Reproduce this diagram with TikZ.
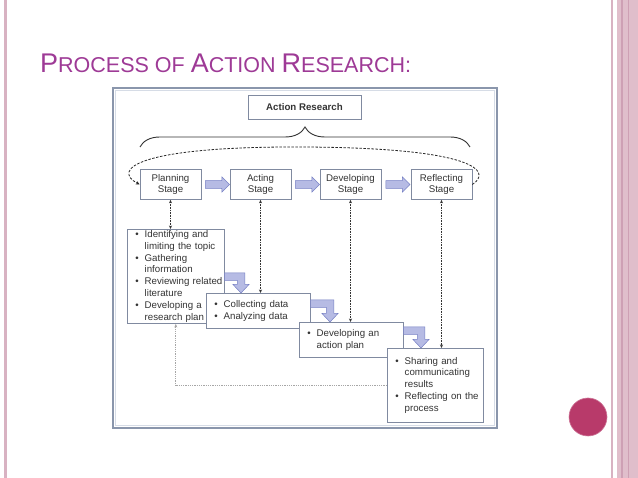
\documentclass[tikz,border=0pt]{standalone}
\usepackage{fontspec}
\setmainfont{Liberation Sans}
\usetikzlibrary{calc,shapes.arrows,decorations.pathreplacing,arrows.meta}

\definecolor{titlecol}{RGB}{158,58,150}
\definecolor{boxcol}{RGB}{128,138,160}
\definecolor{txtcol}{RGB}{52,52,52}
\definecolor{arrowfill}{RGB}{182,187,228}
\definecolor{arrowdraw}{RGB}{118,128,196}
\definecolor{framecol}{RGB}{138,150,172}
\definecolor{framelight}{RGB}{214,220,230}
\definecolor{pinkline}{RGB}{216,178,194}
\definecolor{pinkstrip}{RGB}{224,190,203}
\definecolor{pinkdark}{RGB}{206,160,180}
\definecolor{circlecol}{RGB}{184,58,106}

\newcommand\capbig[1]{{\fontsize{27}{28}\selectfont #1}}
\newcommand\capsmall[1]{{\fontsize{21.5}{22}\selectfont #1}}
\newcommand\itemlist[1]{\begin{tabular}{@{\hspace{8pt}}l@{\hspace{6pt}}l@{}}#1\end{tabular}}

% shaft leaves #1 on its right side, bends down onto the top of #2
\newcommand\bendarrow[4]{%
  \draw[bendblock] let \p1=(#1.north east), \p2=(#2.north west) in
    ({\x1},{\y1-#3}) -- ({\x2+#4+3.75pt},{\y1-#3}) -- ({\x2+#4+3.75pt},{\y2+8.5pt})
    -- ({\x2+#4+8pt},{\y2+8.5pt}) -- ({\x2+#4},{\y2}) -- ({\x2+#4-8pt},{\y2+8.5pt})
    -- ({\x2+#4-3.75pt},{\y2+8.5pt}) -- ({\x2+#4-3.75pt},{\y1-#3-7.5pt})
    -- ({\x1},{\y1-#3-7.5pt}) -- cycle;}

\tikzset{
  stagebox/.style={draw=boxcol, fill=white, line width=0.6pt, minimum width=61pt, minimum height=30pt,
    align=center, inner sep=1pt, text=txtcol, font=\fontsize{9.7}{11.8}\selectfont},
  listbox/.style={draw=boxcol, fill=white, line width=0.6pt, anchor=north west, align=left,
    inner xsep=0pt, inner ysep=0pt, text=txtcol, font=\fontsize{9.7}{11.8}\selectfont},
  hblock/.style={single arrow, draw=arrowdraw, fill=arrowfill, line width=0.5pt, minimum height=24pt,
    minimum width=15pt, single arrow head extend=3.75pt, inner sep=3.6pt},
  bendblock/.style={draw=arrowdraw, fill=arrowfill, line width=0.5pt},
  dotlink/.style={densely dotted, line width=0.6pt, draw=txtcol,
    {Stealth[length=3.5pt,width=3pt]}-{Stealth[length=3.5pt,width=3pt]}},
  returnlink/.style={densely dotted, line width=0.8pt, draw=black!35, -{Stealth[length=3.5pt,width=3pt]}},
  dashcurve/.style={dash pattern=on 2.5pt off 1.5pt, line width=0.8pt, draw=black!85,
    -{Stealth[length=4pt,width=3.5pt]}}
}

\begin{document}
\begin{tikzpicture}[x=1pt,y=-1pt]
  \useasboundingbox (0,0) rectangle (638,478);
  \fill[white] (0,0) rectangle (638,478);

  \fill[pinkline] (4,0) rectangle (7,478);
  \fill[pinkline] (610.5,0) rectangle (612.5,478);
  \fill[pinkstrip] (617,0) rectangle (638,478);
  \fill[pinkdark] (621,0) rectangle (623,478);
  \fill[pinkdark] (627.5,0) rectangle (628.5,478);
  \filldraw[fill=circlecol, draw=circlecol!70!white, line width=0.6pt] (588,417) circle (19pt);

  \node[anchor=base west, text=titlecol, inner sep=0pt] (title) at (40,73)
    {\capbig{P}\capsmall{ROCESS OF }\capbig{A}\capsmall{CTION }\capbig{R}\capsmall{ESEARCH:}};

  \draw[framelight, line width=1pt] (115.5,90.5) rectangle (494.5,425.5);
  \draw[framecol, line width=1.5pt] (113,88) rectangle (497,428);

  \node[draw=boxcol, line width=0.6pt, minimum width=113pt, minimum height=24pt, text=txtcol,
    font=\fontsize{9.7}{11.8}\selectfont\bfseries] (ar) at (304.5,107) {Action Research};
  \draw[decorate, decoration={brace, amplitude=20pt}, line width=0.9pt, draw=black!80] (140,147) -- (470,147);

  \node[stagebox] (pl) at (170.5,184.5) {Planning\\Stage};
  \node[stagebox] (ac) at (260.5,184.5) {Acting\\Stage};
  \node[stagebox] (dv) at (350.5,184.5) {Developing\\Stage};
  \node[stagebox] (rf) at (441.5,184.5) {Reflecting\\Stage};

  \node[hblock] (a1) at ($(pl.east)!0.5!(ac.west)$) {};
  \node[hblock] (a2) at ($(ac.east)!0.5!(dv.west)$) {};
  \node[hblock] (a3) at ($(dv.east)!0.5!(rf.west)$) {};

  \draw[dashcurve] (rf.east) .. controls (492,172) and (478,148) .. (305,147)
    .. controls (135,146) and (112,170) .. (pl.west);

  \node[listbox, text width=97pt, minimum height=94pt] (b1) at (127,229)
    {\itemlist{\textbullet & Identifying and\\ & limiting the topic\\ \textbullet & Gathering\\ & information\\
      \textbullet & Reviewing related\\ & literature\\ \textbullet & Developing a\\ & research plan}};
  \node[listbox, text width=104pt, minimum height=35pt] (b2) at (206,293)
    {\itemlist{\textbullet & Collecting data\\ \textbullet & Analyzing data}};
  \node[listbox, text width=104pt, minimum height=35pt] (b3) at (299,322)
    {\itemlist{\textbullet & Developing an\\ & action plan}};
  \node[listbox, text width=96pt, minimum height=74pt] (b4) at (387,348)
    {\itemlist{\textbullet & Sharing and\\ & communicating\\ & results\\ \textbullet & Reflecting on the\\ & process}};

  \bendarrow{b1}{b2}{44pt}{35pt}
  \bendarrow{b2}{b3}{7pt}{31pt}
  \bendarrow{b3}{b4}{5pt}{34pt}

  \draw[dotlink] (pl.south) -- (pl.south |- b1.north);
  \draw[dotlink] (ac.south) -- (ac.south |- b2.north);
  \draw[dotlink] (dv.south) -- (dv.south |- b3.north);
  \draw[dotlink] (rf.south) -- (rf.south |- b4.north);

  \draw[returnlink] (b4.west) -| (b1.south);
\end{tikzpicture}
\end{document}
